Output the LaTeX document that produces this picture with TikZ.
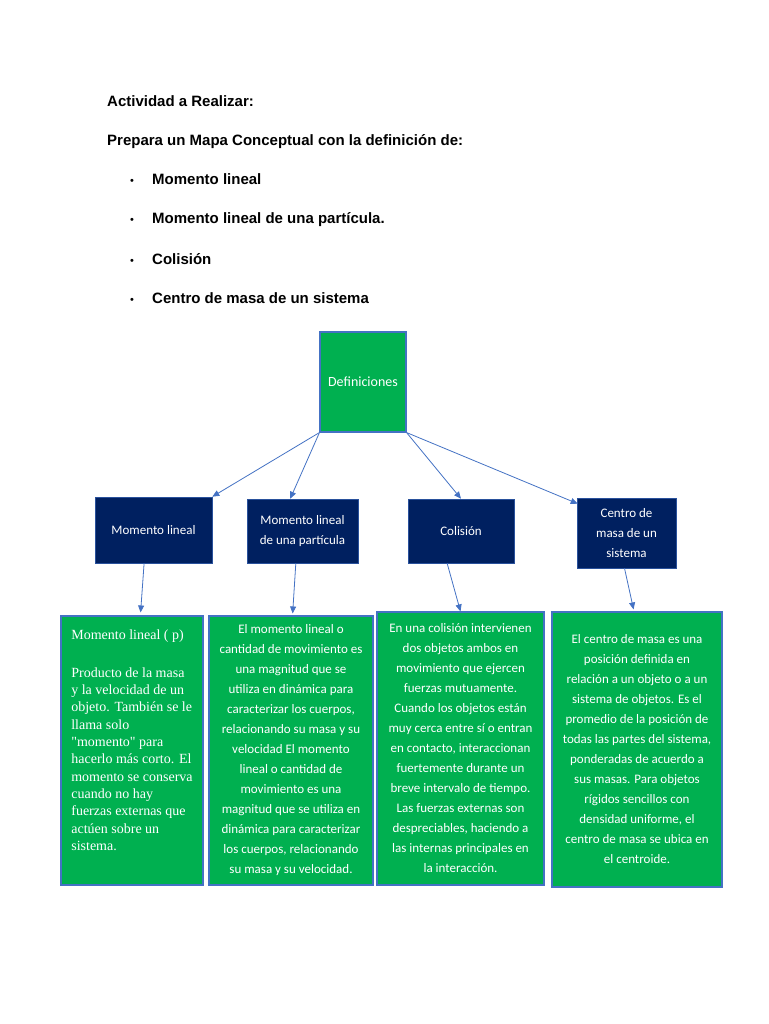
\documentclass[tikz,border=0pt]{standalone}
\usepackage{fontspec}
\setmainfont{Liberation Sans}
\newfontfamily\calib{Carlito}
\newfontfamily\timesf{Liberation Serif}
\usetikzlibrary{arrows.meta,calc}
\definecolor{gfill}{HTML}{00B050}
\definecolor{navy}{HTML}{002060}
\definecolor{bblue}{HTML}{4472C4}
\begin{document}
\begin{tikzpicture}[x=1pt,y=-1pt,
  heading/.style={anchor=base west,inner sep=0pt,font=\bfseries\fontsize{15}{18}\selectfont},
  greenbox/.style={draw=bblue,line width=1.1pt,fill=gfill,text=white,align=center,inner sep=0pt,
     font=\calib\fontsize{13}{20}\selectfont},
  navybox/.style={draw=bblue!60!navy,line width=0.6pt,fill=navy,text=white,align=center,inner sep=0pt,
     font=\calib\fontsize{13}{20}\selectfont},
  conn/.style={draw=bblue,line width=0.8pt,-{Triangle[width=6pt,length=7pt]}}]
\useasboundingbox (0,0) rectangle (768,1024);
\fill[white] (0,0) rectangle (768,1024);
% heading
\node[heading] (h1) at (107,107) {Actividad a Realizar:};
\node[heading] (h2) at (107,146) {Prepara un Mapa Conceptual con la definición de:};
\foreach \y/\t [count=\i] in {185/Momento lineal,224/Momento lineal de una partícula.,264/Colisión,303/Centro de masa de un sistema}{
  \node[heading,font=\fontsize{11}{12}\selectfont] (b\i) at (130,\y) {•};
  \node[heading] (t\i) at (152,\y) {\t};
}
% top box
\node[greenbox,minimum width=86pt,minimum height=100pt,font=\calib\fontsize{14}{20}\selectfont] (def) at (363,382) {Definiciones};
% navy boxes
\node[navybox,minimum width=117pt,minimum height=66pt] (ml) at (153.5,530) {Momento lineal};
\node[navybox,minimum width=111pt,minimum height=64pt] (mlp) at (302.5,531) {Momento lineal\\de una partícula};
\node[navybox,minimum width=106pt,minimum height=64pt] (col) at (461,531) {Colisión};
\node[navybox,minimum width=99pt,minimum height=70pt] (cm) at (626.5,533) {Centro de\\masa de un\\sistema};
% green boxes
\node[greenbox,align=left,minimum width=142pt,minimum height=269pt,font=\timesf\fontsize{14}{17.3}\selectfont] (g1) at (132,750.5)
 {Momento lineal ( p)\\[21pt]Producto de la masa\\y la velocidad de un\\objeto. También se le\\llama solo\\"momento" para\\hacerlo más corto. El\\momento se conserva\\cuando no hay\\fuerzas externas que\\actúen sobre un\\sistema.\\[4pt]};
\node[greenbox,minimum width=164pt,minimum height=269pt] (g2) at (291,750.5)
 {El momento lineal o\\cantidad de movimiento es\\una magnitud que se\\utiliza en dinámica para\\caracterizar los cuerpos,\\relacionando su masa y su\\velocidad El momento\\lineal o cantidad de\\movimiento es una\\magnitud que se utiliza en\\dinámica para caracterizar\\los cuerpos, relacionando\\su masa y su velocidad.};
\node[greenbox,minimum width=167pt,minimum height=273pt] (g3) at (460.5,748.5)
 {En una colisión intervienen\\dos objetos ambos en\\movimiento que ejercen\\fuerzas mutuamente.\\Cuando los objetos están\\muy cerca entre sí o entran\\en contacto, interaccionan\\fuertemente durante un\\breve intervalo de tiempo.\\Las fuerzas externas son\\despreciables, haciendo a\\las internas principales en\\la interacción.};
\node[greenbox,minimum width=170pt,minimum height=275pt] (g4) at (637,749.5)
 {El centro de masa es una\\posición definida en\\relación a un objeto o a un\\sistema de objetos. Es el\\promedio de la posición de\\todas las partes del sistema,\\ponderadas de acuerdo a\\sus masas. Para objetos\\rígidos sencillos con\\densidad uniforme, el\\centro de masa se ubica en\\el centroide.};
% connectors
\draw[conn] (def.south west) -- (ml.north east);
\draw[conn] (def.south west) -- ($(mlp.north west)!0.39!(mlp.north east)$);
\draw[conn] (def.south east) -- (col.north);
\draw[conn] (def.south east) -- ($(cm.north west)+(1,6)$);
\draw[conn] ($(ml.south west)!0.42!(ml.south east)$) -- ($(g1.north west)!0.56!(g1.north east)+(0,-3)$);
\draw[conn] ($(mlp.south west)!0.44!(mlp.south east)$) -- ($(g2.north west)!0.51!(g2.north east)+(0,-2)$);
\draw[conn] ($(col.south west)!0.37!(col.south east)$) -- ($(g3.north west)!0.5!(g3.north east)$);
\draw[conn] ($(cm.south west)!0.48!(cm.south east)$) -- ($(g4.north west)!0.48!(g4.north east)+(0,-2)$);
\end{tikzpicture}
\end{document}
